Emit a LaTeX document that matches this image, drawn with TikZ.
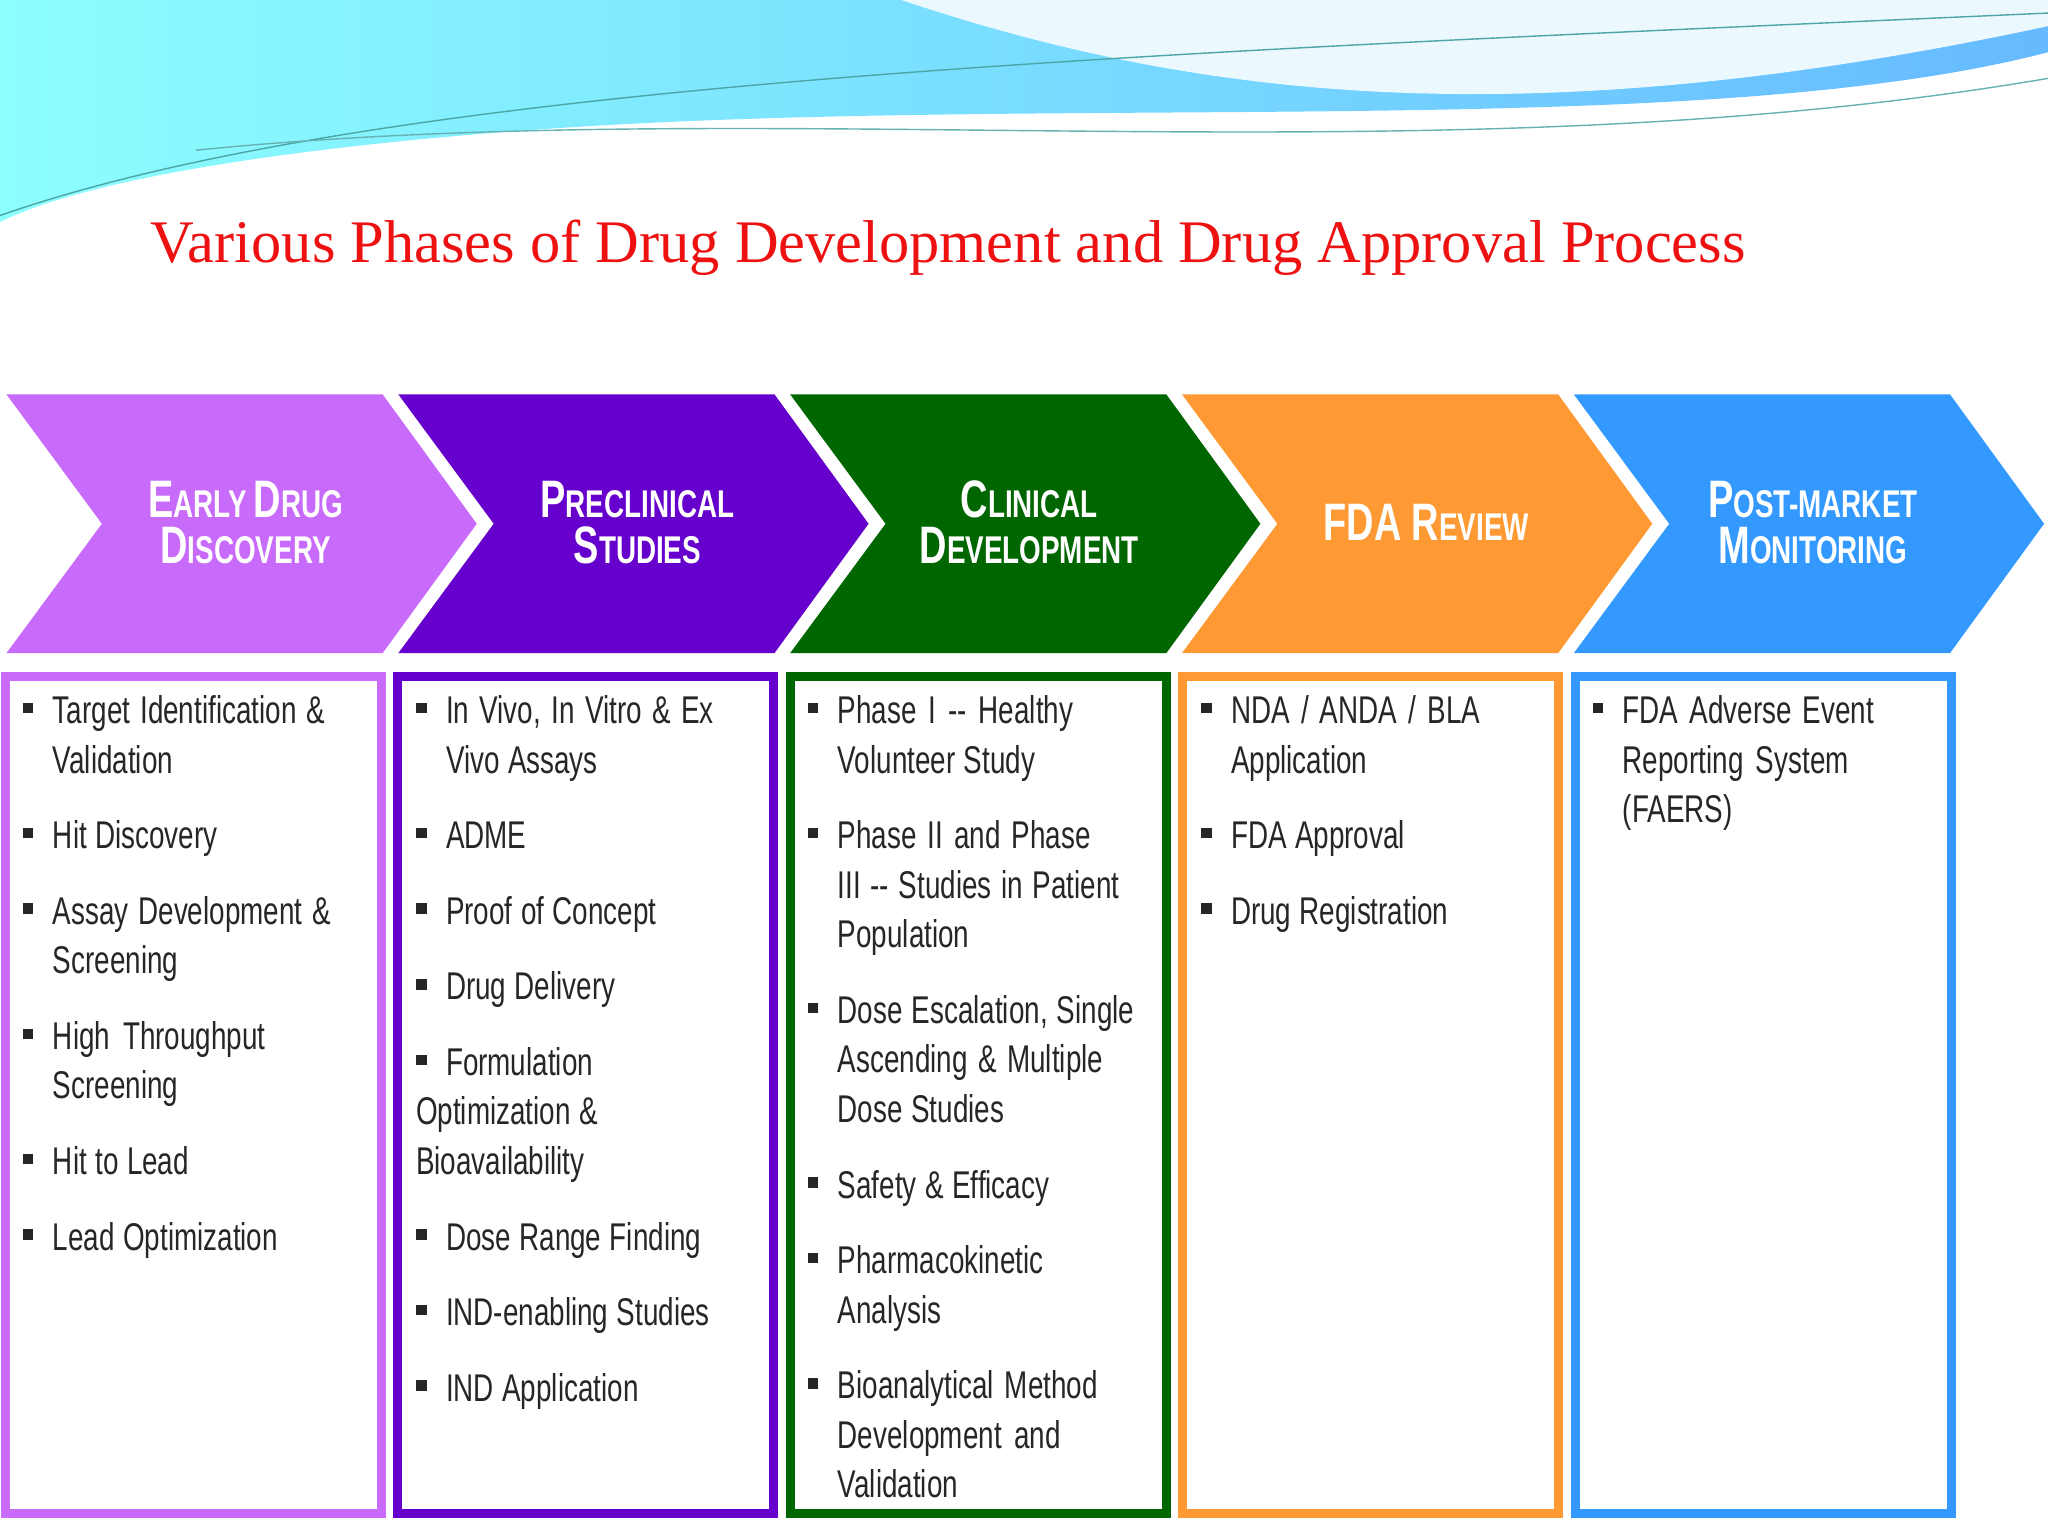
\documentclass[tikz,border=0pt]{standalone}
\usepackage{fontspec}
\setmainfont{Liberation Serif}
\newfontfamily\bodyfont[FakeStretch=0.72]{Liberation Sans}
\usetikzlibrary{positioning}

\definecolor{earlycol}{HTML}{C86BFA}
\definecolor{precol}{HTML}{6600CC}
\definecolor{clincol}{HTML}{006600}
\definecolor{fdacol}{HTML}{FF9933}
\definecolor{postcol}{HTML}{3399FF}
\definecolor{titlered}{HTML}{EE1111}

\newcommand{\hsc}[2]{{\fontsize{15}{15}\selectfont #1}{\fontsize{11}{11}\selectfont #2}}
\newcommand{\listsetup}{\bodyfont\fontsize{11}{14.1}\selectfont\hyphenpenalty=10000\relax\spaceskip=2.4pt plus 1pt\relax}
\newcommand{\entry}[1]{{\hangindent=0.3cm\hangafter=1\noindent\makebox[0.3cm][l]{\raisebox{0.5ex}{\rule{3pt}{3pt}}}#1\par}\vspace{7.4pt}}

\tikzset{
  chevron/.style={fill=#1, draw=none},
  colbox/.style={draw=#1, line width=2.6pt},
  headtext/.style={text=white, align=center, font=\bodyfont\bfseries, inner sep=0pt},
  listbox/.style={anchor=north west, text width=3.35cm, inner sep=0pt,
    text=black!85, align=left}
}

\begin{document}
\begin{tikzpicture}[x=0.013061cm, y=-0.013061cm]
    \useasboundingbox (0,0) rectangle (1568,1176);
    \fill[white] (0,0) rectangle (1568,1176);

    % Top wave
    \shade[left color=cyan!45, right color=blue!45!cyan!60] (0,0) -- (1568,0) -- (1568,40)
        .. controls (1300,110) and (800,70) .. (400,100)
        .. controls (200,115) and (60,140) .. (0,170) -- cycle;
    \fill[white!92!cyan] (690,0) .. controls (900,70) and (1150,110) .. (1568,20) -- (1568,0) -- cycle;
    \draw[teal!70, thin] (0,165) .. controls (300,60) and (900,40) .. (1568,10);
    \draw[teal!60, thin] (150,115) .. controls (600,70) and (1100,140) .. (1568,60);

    % Title
    \node[text=titlered, font=\fontsize{17.2}{20}\selectfont, anchor=west] (title) at (106,190)
        {Various Phases of Drug Development and Drug Approval Process};

    % Chevrons
    \foreach \i/\c in {0/earlycol,1/precol,2/clincol,3/fdacol,4/postcol}{
        \fill[chevron=\c] ({5+300*\i},302) -- ({293+300*\i},302) -- ({365+300*\i},401)
            -- ({293+300*\i},500) -- ({5+300*\i},500) -- ({78+300*\i},401) -- cycle;
    }

    % Headings
    \node[headtext] (hearly) at (188,400) {\hsc{E}{ARLY} \hsc{D}{RUG}\\[1pt]\hsc{D}{ISCOVERY}};
    \node[headtext] (hpre) at (488,400) {\hsc{P}{RECLINICAL}\\[1pt]\hsc{S}{TUDIES}};
    \node[headtext] (hclin) at (788,400) {\hsc{C}{LINICAL}\\[1pt]\hsc{D}{EVELOPMENT}};
    \node[headtext] (hfda) at (1092,400) {\hsc{FDA R}{EVIEW}};
    \node[headtext] (hpost) at (1388,400) {\hsc{P}{OST}{\fontsize{11}{11}\selectfont-}\hsc{}{MARKET}\\[1pt]\hsc{M}{ONITORING}};

    % Boxes
    \foreach \i/\c in {0/earlycol,1/precol,2/clincol,3/fdacol,4/postcol}{
        \draw[colbox=\c] ({4+300.5*\i},518) rectangle ({292+300.5*\i},1159);
    }

    % Lists
    \node[listbox] (learly) at (17,532) {\listsetup
        \entry{Target Identification \& Validation}
        \entry{Hit Discovery}
        \entry{Assay Development \& Screening}
        \entry{High Throughput Screening}
        \entry{Hit to Lead}
        \entry{Lead Optimization}};
    \node[listbox] (lpre) at (318,532) {\listsetup
        \entry{In Vivo, In Vitro \& Ex Vivo Assays}
        \entry{ADME}
        \entry{Proof of Concept}
        \entry{Drug Delivery}
        \entry{Formulation\\Optimization \&\\Bioavailability}
        \entry{Dose Range Finding}
        \entry{IND-enabling Studies}
        \entry{IND Application}};
    \node[listbox] (lclin) at (618,532) {\listsetup
        \entry{Phase I -- Healthy Volunteer Study}
        \entry{Phase II and Phase III -- Studies in Patient Population}
        \entry{Dose Escalation, Single Ascending \& Multiple Dose Studies}
        \entry{Safety \& Efficacy}
        \entry{Pharmacokinetic Analysis}
        \entry{Bioanalytical Method Development and Validation}};
    \node[listbox] (lfda) at (919,532) {\listsetup
        \entry{NDA / ANDA / BLA Application}
        \entry{FDA Approval}
        \entry{Drug Registration}};
    \node[listbox] (lpost) at (1219,532) {\listsetup
        \entry{FDA Adverse Event Reporting System (FAERS)}};
\end{tikzpicture}
\end{document}
